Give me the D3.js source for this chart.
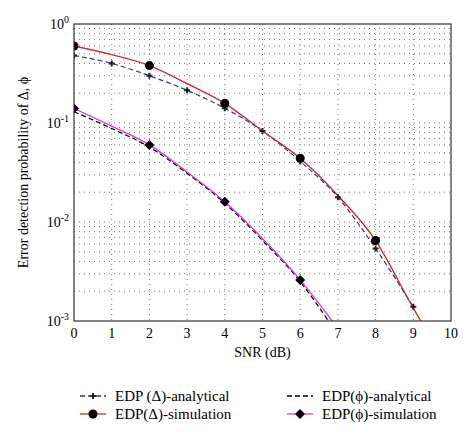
<!DOCTYPE html><html><head><meta charset="utf-8"><script src="https://d3js.org/d3.v7.min.js"></script>
<style>body{margin:0;background:#fff}text{font-family:"Liberation Serif","Times New Roman",serif}</style></head><body><svg id="c" width="474" height="440"></svg>
<script>
const xTicks=[0,1,2,3,4,5,6,7,8,9,10];
const yDecades=[0,-1,-2,-3];
const snrAll=[0,1,2,3,4,5,6,7,8,9,9.2];
const deltaAnalytical=[0.48,0.40,0.30,0.214,0.141,0.083,0.041,0.0178,0.0054,0.00139];
const deltaSim=[0.60,0.49,0.38,0.25,0.158,0.083,0.044,0.0185,0.0065,0.00135,0.001];
const deltaSimMarkX=[0,2,4,6,8];
const phiX=[0,1,2,3,4,5,6,6.75];
const phiAnalytical=[0.13,0.088,0.057,0.031,0.0155,0.0065,0.0025,0.001];
const phiSimX=[0,1,2,3,4,5,6,6.85];
const phiSim=[0.14,0.093,0.060,0.032,0.016,0.0068,0.0026,0.001];
const phiSimMarkX=[0,2,4,6];

const svg=d3.select("#c");
const m={l:74,r:451,t:24,b:321};
const x=d3.scaleLinear().domain([0,10]).range([m.l,m.r]);
const y=d3.scaleLog().domain([1e-3,1]).range([m.b,m.t]);
const g=svg.append("g");
const minor=[];for(let e=-3;e<0;e++)for(let k=1;k<=9;k++)minor.push(k*Math.pow(10,e));
g.selectAll(".hy").data(minor.filter(v=>v>1e-3)).join("line").attr("x1",m.l).attr("x2",m.r).attr("y1",d=>y(d)).attr("y2",d=>y(d)).attr("stroke","#777").attr("stroke-dasharray","1,4");
g.selectAll(".vx").data(xTicks.slice(1,-1)).join("line").attr("y1",m.t).attr("y2",m.b).attr("x1",d=>x(d)).attr("x2",d=>x(d)).attr("stroke","#777").attr("stroke-dasharray","1,4");
svg.append("defs").append("clipPath").attr("id","cp").append("rect").attr("x",m.l).attr("y",m.t).attr("width",m.r-m.l).attr("height",m.b-m.t);
const line=d3.line().x(d=>x(d[0])).y(d=>y(d[1])).curve(d3.curveMonotoneX);
const p=svg.append("g").attr("clip-path","url(#cp)");
const z=(a,b)=>a.map((v,i)=>[v,b[i]]);
p.append("path").attr("d",line(z(phiX,phiAnalytical))).attr("fill","none").attr("stroke","#000").attr("stroke-width",1.2).attr("stroke-dasharray","5,3");
p.append("path").attr("d",line(z(phiSimX,phiSim))).attr("fill","none").attr("stroke","#d040d0").attr("stroke-width",1.4);
p.append("path").attr("d",line(z(snrAll.slice(0,10),deltaAnalytical))).attr("fill","none").attr("stroke","#2a3a8a").attr("stroke-width",1.2).attr("stroke-dasharray","5,3");
p.append("path").attr("d",line(z(snrAll,deltaSim))).attr("fill","none").attr("stroke","#c03030").attr("stroke-width",1.4);
const plus=(sel,cx,cy)=>sel.append("path").attr("d",`M${cx-3},${cy}H${cx+3}M${cx},${cy-3}V${cy+3}`).attr("stroke","#222").attr("stroke-width",2);
snrAll.slice(0,10).forEach((s,i)=>plus(p,x(s),y(deltaAnalytical[i])));
deltaSimMarkX.forEach(s=>p.append("circle").attr("cx",x(s)).attr("cy",y(deltaSim[snrAll.indexOf(s)])).attr("r",4.5).attr("fill","#000"));
const dia=(sel,cx,cy,r)=>sel.append("path").attr("d",`M${cx},${cy-r}L${cx+r},${cy}L${cx},${cy+r}L${cx-r},${cy}Z`).attr("fill","#000");
phiSimMarkX.forEach(s=>dia(p,x(s),y(phiSim[phiSimX.indexOf(s)]),5));
svg.append("rect").attr("x",m.l).attr("y",m.t).attr("width",m.r-m.l).attr("height",m.b-m.t).attr("fill","none").attr("stroke","#333").attr("stroke-width",1.2);
svg.selectAll(".xt").data(xTicks).join("text").attr("x",d=>x(d)).attr("y",m.b+17).attr("text-anchor","middle").attr("font-size",14).text(d=>d);
const yt=svg.selectAll(".yt").data(yDecades).join("text").attr("x",m.l-5).attr("y",d=>y(Math.pow(10,d))+5).attr("text-anchor","end").attr("font-size",14);
yt.append("tspan").text("10");
yt.append("tspan").attr("dy",-6).attr("font-size",10).text(d=>d);
svg.append("text").attr("x",(m.l+m.r)/2).attr("y",357).attr("text-anchor","middle").attr("font-size",14).text("SNR (dB)");
svg.append("text").attr("transform",`translate(28,${(m.t+m.b)/2}) rotate(-90)`).attr("text-anchor","middle").attr("font-size",14).text("Error detection probability of Δ, ϕ");
const L=svg.append("g").attr("font-size",15);
function item(lx,ly,color,dash,mark,label){
 L.append("line").attr("x1",lx).attr("x2",lx+26).attr("y1",ly).attr("y2",ly).attr("stroke",color).attr("stroke-width",1.3).attr("stroke-dasharray",dash);
 if(mark==="plus")plus(L,lx+13,ly);
 if(mark==="circle")L.append("circle").attr("cx",lx+13).attr("cy",ly).attr("r",4.5).attr("fill","#000");
 if(mark==="dia")dia(L,lx+13,ly,5);
 L.append("text").attr("x",lx+35).attr("y",ly+5).text(label);
}
item(80,396,"#2a3a8a","5,3","plus","EDP (Δ)-analytical");
item(80,414,"#c03030",null,"circle","EDP(Δ)-simulation");
item(287,396,"#000","5,3",null,"EDP(ϕ)-analytical");
item(287,414,"#d040d0",null,"dia","EDP(ϕ)-simulation");
</script></body></html>
